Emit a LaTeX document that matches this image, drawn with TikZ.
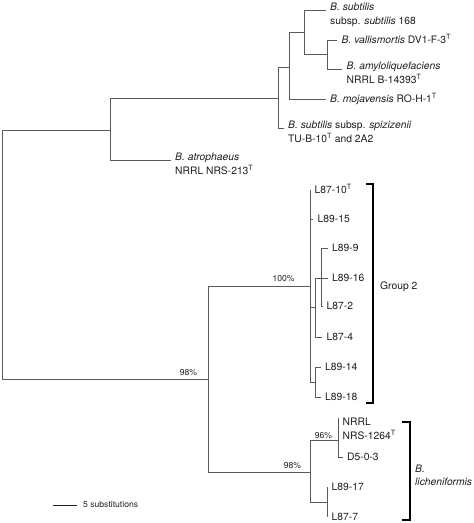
\documentclass[tikz,border=0pt]{standalone}
\usepackage{fontspec}
\setmainfont{TeX Gyre Heros}
\usetikzlibrary{positioning}
\definecolor{Branch}{HTML}{5A5A5A}
\definecolor{Ink}{HTML}{1E1E1E}
\newcommand{\Tstrain}{\textsuperscript{T}}

\begin{document}
\begin{tikzpicture}[x=1pt,y=-1pt,
    branch/.style={draw=Branch,line width=0.9pt},
    bracket/.style={draw=black,line width=1.6pt},
    lbl/.style={inner xsep=4.5pt,inner ysep=0pt,text=Ink,
      font=\fontsize{10.3}{13.5}\selectfont},
    leaf/.style={lbl,anchor=west,text height=7.2pt,text depth=0pt},
    leaftwo/.style={lbl,anchor=north west,align=left,yshift=6.9pt},
    support/.style={inner sep=0pt,text=Ink,font=\fontsize{8.6}{10}\selectfont}
  ]
  \useasboundingbox (0,0) rectangle (474,523);
  \coordinate (root) at (2,254);
  \coordinate (nA) at (110,130);
  \coordinate (nB) at (278,98);
  \coordinate (nC) at (289,67);
  \coordinate (nD) at (304,32);
  \coordinate (nE) at (327,54);
  \coordinate (c168) at (325.5,10);
  \coordinate (cvall) at (337,40);
  \coordinate (camy) at (342,69);
  \coordinate (cmoj) at (325.5,99);
  \coordinate (cspi) at (283.5,128);
  \coordinate (catr) at (170.5,160);
  \coordinate (nF) at (208,379);
  \coordinate (nG) at (310,286);
  \coordinate (c8710) at (310,190);
  \coordinate (c8915) at (313,219);
  \coordinate (nP) at (315,307);
  \coordinate (nQ) at (321.5,278);
  \coordinate (c899) at (327.5,248);
  \coordinate (c8916) at (327.5,278);
  \coordinate (c872) at (322,306);
  \coordinate (c874) at (322,337);
  \coordinate (nR) at (315,382);
  \coordinate (c8914) at (320.5,367);
  \coordinate (c8918) at (320.5,397);
  \coordinate (nL) at (310,472);
  \coordinate (nM) at (338,440);
  \coordinate (c1264) at (338,418);
  \coordinate (cd5) at (342.5,457);
  \coordinate (nN) at (327,502);
  \coordinate (c8917) at (327,487);
  \coordinate (c877) at (327,517);

  \foreach \a/\b in {root/nA,root/nF,nA/nB,nA/catr,nB/nC,nB/cspi,nC/nD,nC/cmoj,
      nD/c168,nD/nE,nE/cvall,nE/camy,nF/nG,nF/nL,nG/c8710,nG/c8915,nG/nP,nG/nR,
      nP/nQ,nP/c874,nQ/c899,nQ/c8916,nQ/c872,nR/c8914,nR/c8918,nL/nM,nL/nN,
      nM/c1264,nM/cd5,nN/c8917,nN/c877}
    \draw[branch] (\a) |- (\b);

  \node[leaftwo] (t168) at (c168) {\textit{B. subtilis}\\subsp. \textit{subtilis} 168};
  \node[leaf] (tvall) at (cvall) {\textit{B. vallismortis} DV1-F-3\Tstrain};
  \node[leaftwo] (tamy) at (camy) {\textit{B. amyloliquefaciens}\\NRRL B-14393\Tstrain};
  \node[leaf] (tmoj) at (cmoj) {\textit{B. mojavensis} RO-H-1\Tstrain};
  \node[leaftwo] (tspi) at (cspi) {\textit{B. subtilis} subsp. \textit{spizizenii}\\TU-B-10\Tstrain{} and 2A2};
  \node[leaftwo] (tatr) at (catr) {\textit{B. atrophaeus}\\NRRL NRS-213\Tstrain};
  \foreach \c/\t in {c8710/L87-10\Tstrain,c8915/L89-15,c899/L89-9,c8916/L89-16,
      c872/L87-2,c874/L87-4,c8914/L89-14,c8918/L89-18,cd5/D5-0-3,
      c8917/L89-17,c877/L87-7}
    \node[leaf] (t\c) at (\c) {\t};
  \node[leaftwo] (t1264) at (338,425) {NRRL\\NRS-1264\Tstrain};

  \node[support] (s100) at (283.5,279) {100\%};
  \node[support] (s98a) at (188.5,373) {98\%};
  \node[support] (s98b) at (292.5,466) {98\%};
  \node[support] (s96) at (323.5,436) {96\%};

  \coordinate (g2top) at (366,184);
  \coordinate (g2end) at (373,403);
  \coordinate (g2bot) at (366,403);
  \draw[bracket] (g2top) -| (g2end) -- (g2bot);
  \node[lbl,anchor=west,inner xsep=0pt] (tg2) at (380,287) {Group 2};

  \coordinate (litop) at (402,422);
  \coordinate (liend) at (410,520);
  \coordinate (libot) at (402,520);
  \draw[bracket] (litop) -| (liend) -- (libot);
  \node[lbl,anchor=west,inner xsep=0pt,align=left] (tli) at (415,475.5)
    {\textit{B.}\\\textit{licheniformis}};

  \coordinate (sbl) at (53,505);
  \coordinate (sbr) at (77,505);
  \draw[line width=0.9pt,Ink] (sbl) -- (sbr);
  \node[support,anchor=west] (tsb) at (83,504.5) {5 substitutions};
\end{tikzpicture}
\end{document}
